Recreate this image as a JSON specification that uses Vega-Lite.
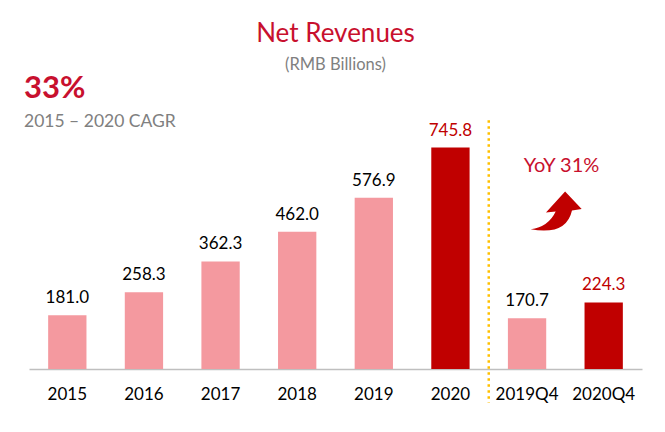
{
  "$schema": "https://vega.github.io/schema/vega-lite/v6.json",
  "width": 613,
  "height": 269,
  "autosize": {"type": "none"},
  "padding": {"left": 29, "top": 100, "right": 23, "bottom": 63},
  "background": "white",
  "config": {
    "view": {"stroke": null},
    "font": "Lato",
    "axisX": {
      "domainColor": "#BFBFBF",
      "domainWidth": 1.5,
      "ticks": false,
      "grid": false,
      "labelAngle": 0,
      "labelFont": "Lato",
      "labelFontSize": 17,
      "labelColor": "#000000",
      "labelPadding": 17,
      "title": null
    }
  },
  "title": {
    "text": "Net Revenues",
    "subtitle": "(RMB Billions)",
    "anchor": "middle",
    "frame": "group",
    "font": "Lato",
    "fontSize": 26,
    "fontWeight": "normal",
    "color": "#C8102E",
    "subtitleFont": "Lato",
    "subtitleFontSize": 16.5,
    "subtitleColor": "#808080",
    "subtitlePadding": 10,
    "offset": 0
  },
  "data": {
    "values": [
      {"period": "2015", "value": 181.0, "series": "prior"},
      {"period": "2016", "value": 258.3, "series": "prior"},
      {"period": "2017", "value": 362.3, "series": "prior"},
      {"period": "2018", "value": 462.0, "series": "prior"},
      {"period": "2019", "value": 576.9, "series": "prior"},
      {"period": "2020", "value": 745.8, "series": "current"},
      {"period": "2019Q4", "value": 170.7, "series": "prior"},
      {"period": "2020Q4", "value": 224.3, "series": "current"}
    ]
  },
  "resolve": {"scale": {"color": "independent"}},
  "layer": [
    {
      "mark": {"type": "bar"},
      "encoding": {
        "x": {
          "field": "period",
          "type": "nominal",
          "sort": null,
          "title": null,
          "scale": {"paddingInner": 0.5, "paddingOuter": 0.25}
        },
        "y": {
          "field": "value",
          "type": "quantitative",
          "scale": {"domain": [0, 906], "nice": false},
          "axis": null
        },
        "color": {
          "field": "series",
          "type": "nominal",
          "scale": {"domain": ["prior", "current"], "range": ["#F4999F", "#C00000"]},
          "legend": null
        }
      }
    },
    {
      "mark": {"type": "text", "baseline": "alphabetic", "dy": -12, "fontSize": 17, "font": "Lato"},
      "encoding": {
        "x": {"field": "period", "type": "nominal", "sort": null, "title": null},
        "y": {"field": "value", "type": "quantitative", "axis": null},
        "text": {"field": "value", "type": "quantitative", "format": ".1f"},
        "color": {
          "field": "series",
          "type": "nominal",
          "scale": {"domain": ["prior", "current"], "range": ["#000000", "#C00000"]},
          "legend": null
        }
      }
    },
    {
      "data": {"values": [{"note": "divider"}]},
      "mark": {"type": "rule", "color": "#FFC000", "strokeWidth": 2.5, "strokeDash": [2.5, 3.5]},
      "encoding": {
        "x": {"datum": "2020", "type": "nominal", "bandPosition": 1.5},
        "y": {"datum": 838, "type": "quantitative", "axis": null},
        "y2": {"datum": -114}
      }
    },
    {
      "data": {"values": [{"label": "33%"}]},
      "mark": {"type": "text", "align": "left", "baseline": "alphabetic", "fontSize": 31, "fontWeight": "bold", "font": "Lato", "color": "#C8102E"},
      "encoding": {
        "x": {"datum": "2015", "type": "nominal", "bandPosition": -0.63},
        "y": {"datum": 912, "type": "quantitative", "axis": null},
        "text": {"field": "label"}
      }
    },
    {
      "data": {"values": [{"label": "2015 – 2020 CAGR"}]},
      "mark": {"type": "text", "align": "left", "baseline": "alphabetic", "fontSize": 17.5, "font": "Lato", "color": "#808080"},
      "encoding": {
        "x": {"datum": "2015", "type": "nominal", "bandPosition": -0.63},
        "y": {"datum": 815, "type": "quantitative", "axis": null},
        "text": {"field": "label"}
      }
    },
    {
      "data": {"values": [{"label": "YoY 31%"}]},
      "mark": {"type": "text", "align": "center", "baseline": "middle", "fontSize": 20, "font": "Lato", "color": "#C8102E"},
      "encoding": {
        "x": {"datum": "2020Q4", "type": "nominal", "bandPosition": -0.6},
        "y": {"datum": 683, "type": "quantitative", "axis": null},
        "text": {"field": "label"}
      }
    },
    {
      "data": {"values": [{"label": "up"}]},
      "mark": {
        "type": "point",
        "shape": "M -1 0.6 Q -0.3 0.5 -0.02 -0.1 L -0.4 -0.06 L 0.35 -0.88 L 1 -0.2 L 0.62 -0.14 Q 0.4 0.85 -1 0.6 Z",
        "filled": true,
        "opacity": 1,
        "size": 2600,
        "color": "#C00000"
      },
      "encoding": {
        "x": {"datum": "2020Q4", "type": "nominal", "bandPosition": -0.74},
        "y": {"datum": 522, "type": "quantitative", "axis": null}
      }
    }
  ]
}
